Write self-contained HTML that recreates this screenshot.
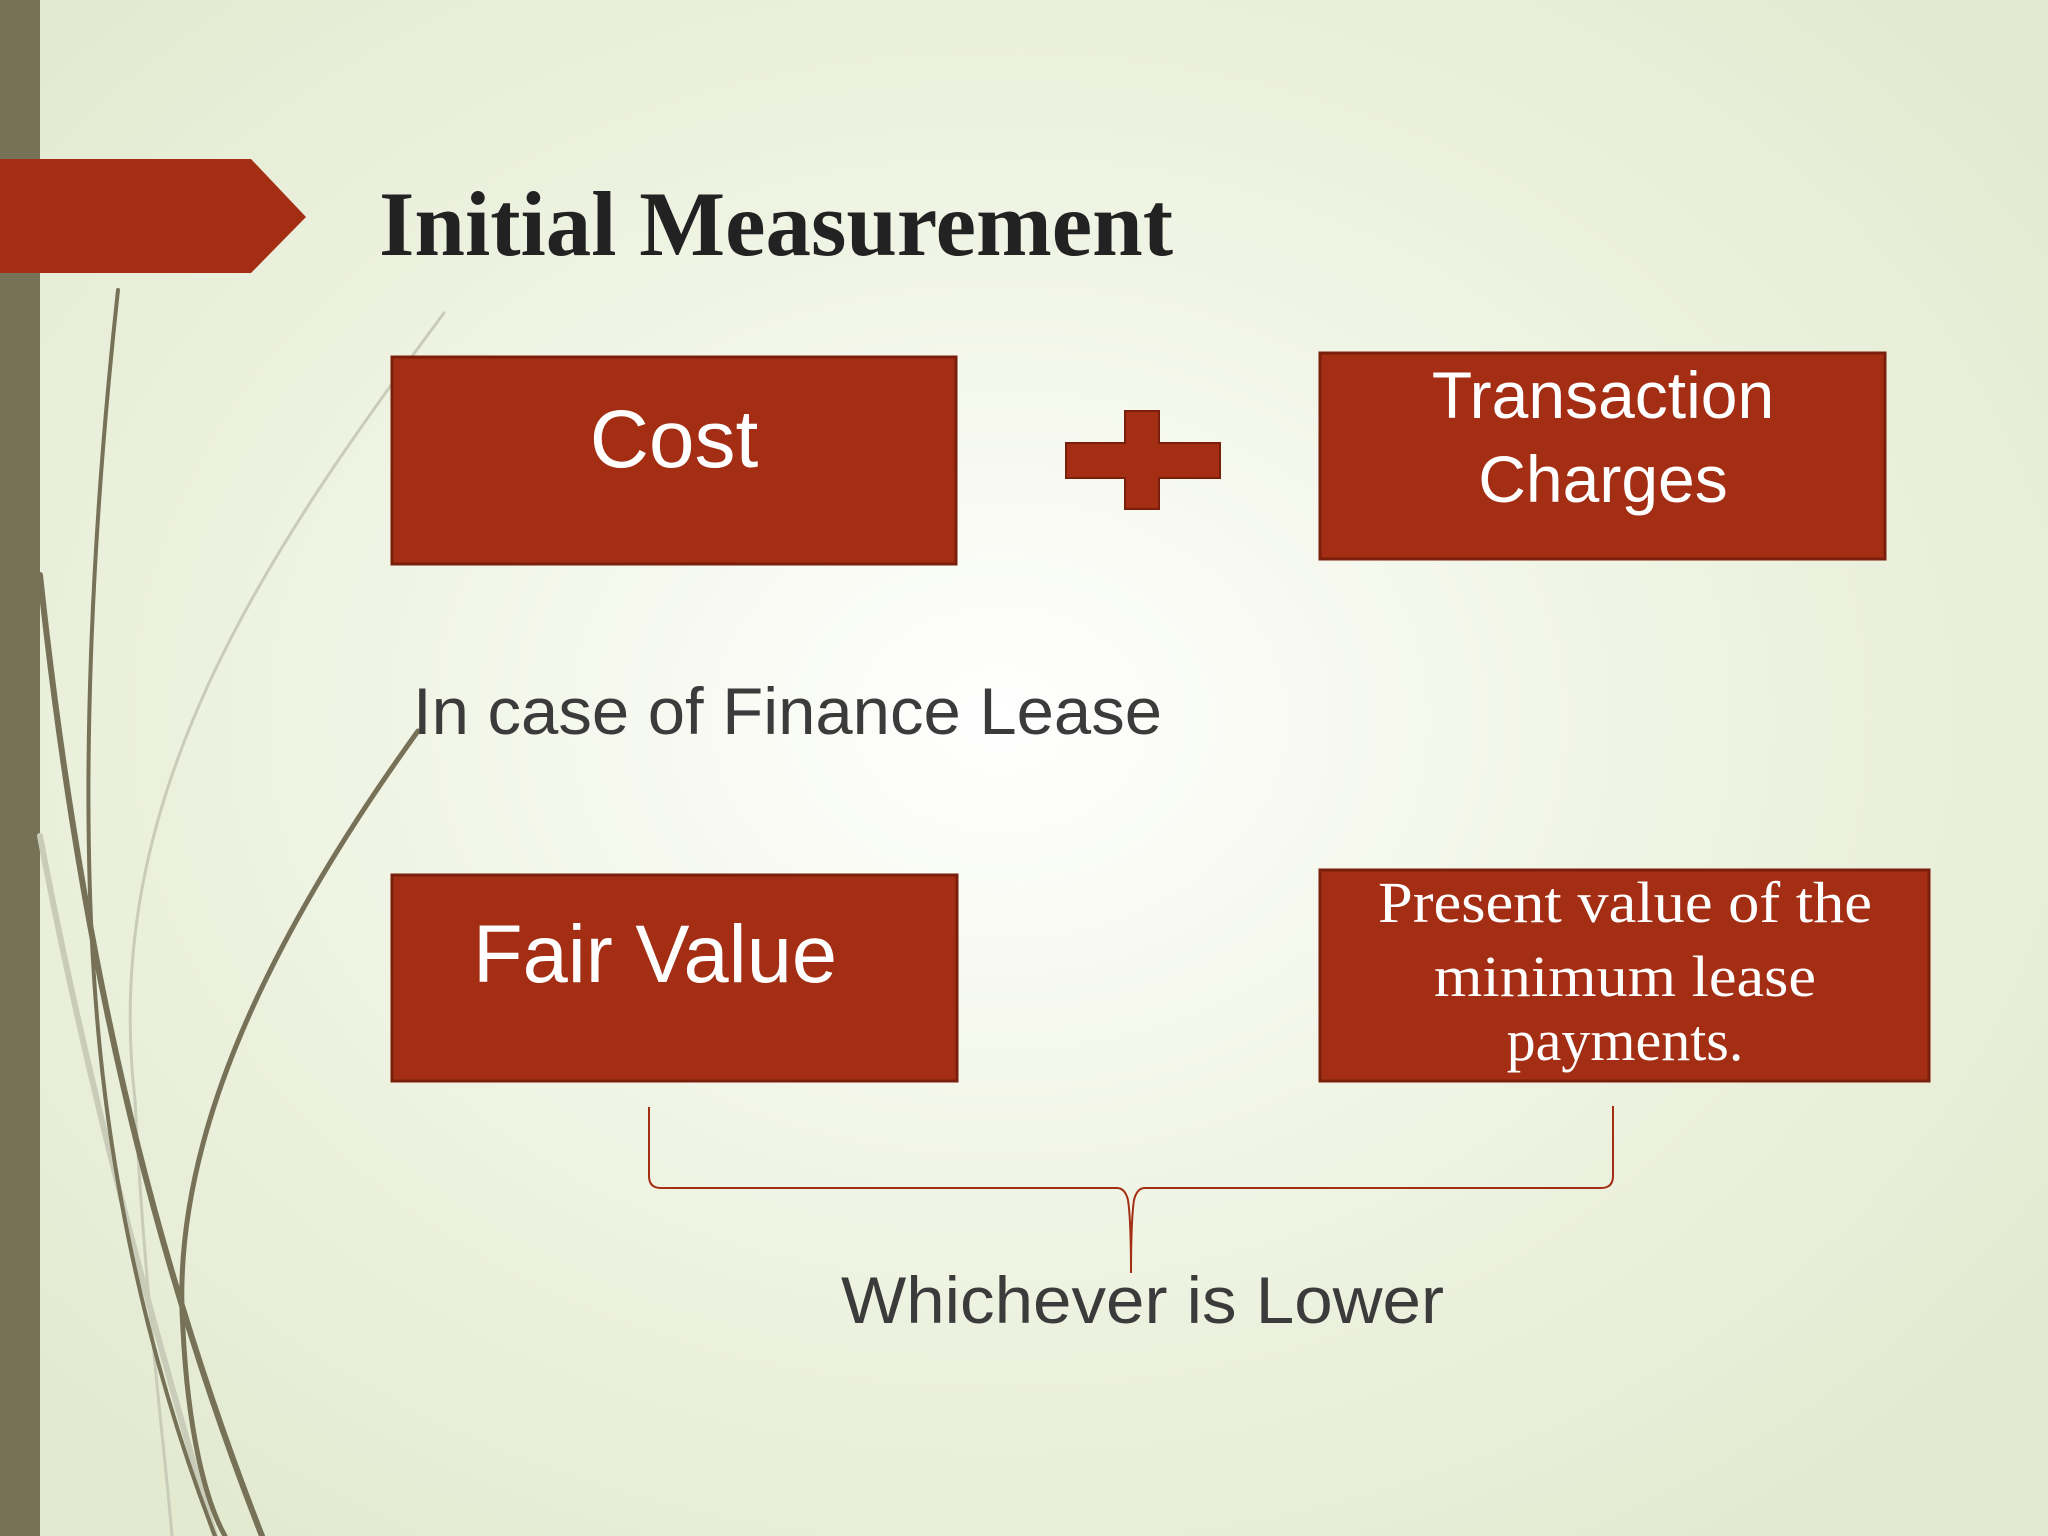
<!DOCTYPE html>
<html><head><meta charset="utf-8"><style>
html,body{margin:0;padding:0;width:2048px;height:1536px;overflow:hidden}
body{background:radial-gradient(ellipse 1300px 1000px at 1000px 720px,#ffffff 0%,#f1f5e6 45%,#e3ead0 100%)}
svg{position:absolute;left:0;top:0}
</style></head><body>
<svg width="2048" height="1536" viewBox="0 0 2048 1536" xmlns="http://www.w3.org/2000/svg">
<rect x="0" y="0" width="40" height="1536" fill="#767157"/>
<g fill="none" stroke-linecap="round">
<path d="M444 313 C260 560 100 800 135 1100 C145 1300 165 1450 172 1536" stroke="#c9ccb8" stroke-width="3"/>
<path d="M40 836 C90 1100 160 1350 215 1536" stroke="#c9ccb8" stroke-width="6"/>
<path d="M118 290 C95 500 75 800 100 1050 C120 1250 170 1420 215 1536" stroke="#767157" stroke-width="4"/>
<path d="M40 575 C80 950 150 1250 262 1536" stroke="#767157" stroke-width="6"/>
<path d="M418 731 C260 950 170 1150 183 1330 C188 1430 205 1500 225 1536" stroke="#767157" stroke-width="5"/>
</g>
<polygon points="0,159 251,159 306,217 251,273 0,273" fill="#a32e14"/>
<text x="379" y="255" font-family="Liberation Serif" font-weight="bold" font-size="92" fill="#222" textLength="794" lengthAdjust="spacingAndGlyphs">Initial Measurement</text>
<g fill="#a32e14" stroke="#7a1f0c" stroke-width="3">
<rect x="392" y="357" width="564" height="207"/>
<rect x="1320" y="353" width="565" height="206"/>
<rect x="392" y="875" width="565" height="206"/>
<rect x="1320" y="870" width="609" height="211"/>
</g>
<g fill="#a32e14" stroke="#7a1f0c" stroke-width="2">
<path d="M1125 411 H1159 V443 H1220 V478 H1159 V509 H1125 V478 H1066 V443 H1125 Z"/>
</g>
<g font-family="Liberation Sans, DejaVu Sans, sans-serif" fill="#fff" text-anchor="middle">
<text x="674" y="467" font-size="82">Cost</text>
<text x="1603" y="418" font-size="66">Transaction</text>
<text x="1603" y="502" font-size="66">Charges</text>
<text x="655" y="982" font-size="82" textLength="364" lengthAdjust="spacingAndGlyphs">Fair Value</text>
</g>
<g font-family="Liberation Serif, serif" fill="#fff" text-anchor="middle" font-size="58">
<text x="1625" y="922" textLength="494" lengthAdjust="spacingAndGlyphs">Present value of the</text>
<text x="1625" y="996" textLength="382" lengthAdjust="spacingAndGlyphs">minimum lease</text>
<text x="1625" y="1060">payments.</text>
</g>
<g font-family="Liberation Sans, DejaVu Sans, sans-serif" fill="#3b3b3b" font-size="66">
<text x="413" y="734" textLength="749" lengthAdjust="spacingAndGlyphs">In case of Finance Lease</text>
<text x="841" y="1323" textLength="603" lengthAdjust="spacingAndGlyphs">Whichever is Lower</text>
</g>
<path d="M649 1107 V1176 Q649 1188 661 1188 H1117 Q1125 1188 1128 1200 Q1131 1220 1131 1273 Q1131 1220 1134 1200 Q1137 1188 1145 1188 H1601 Q1613 1188 1613 1176 V1106" fill="none" stroke="#a32e14" stroke-width="2"/>
</svg>
</body></html>
